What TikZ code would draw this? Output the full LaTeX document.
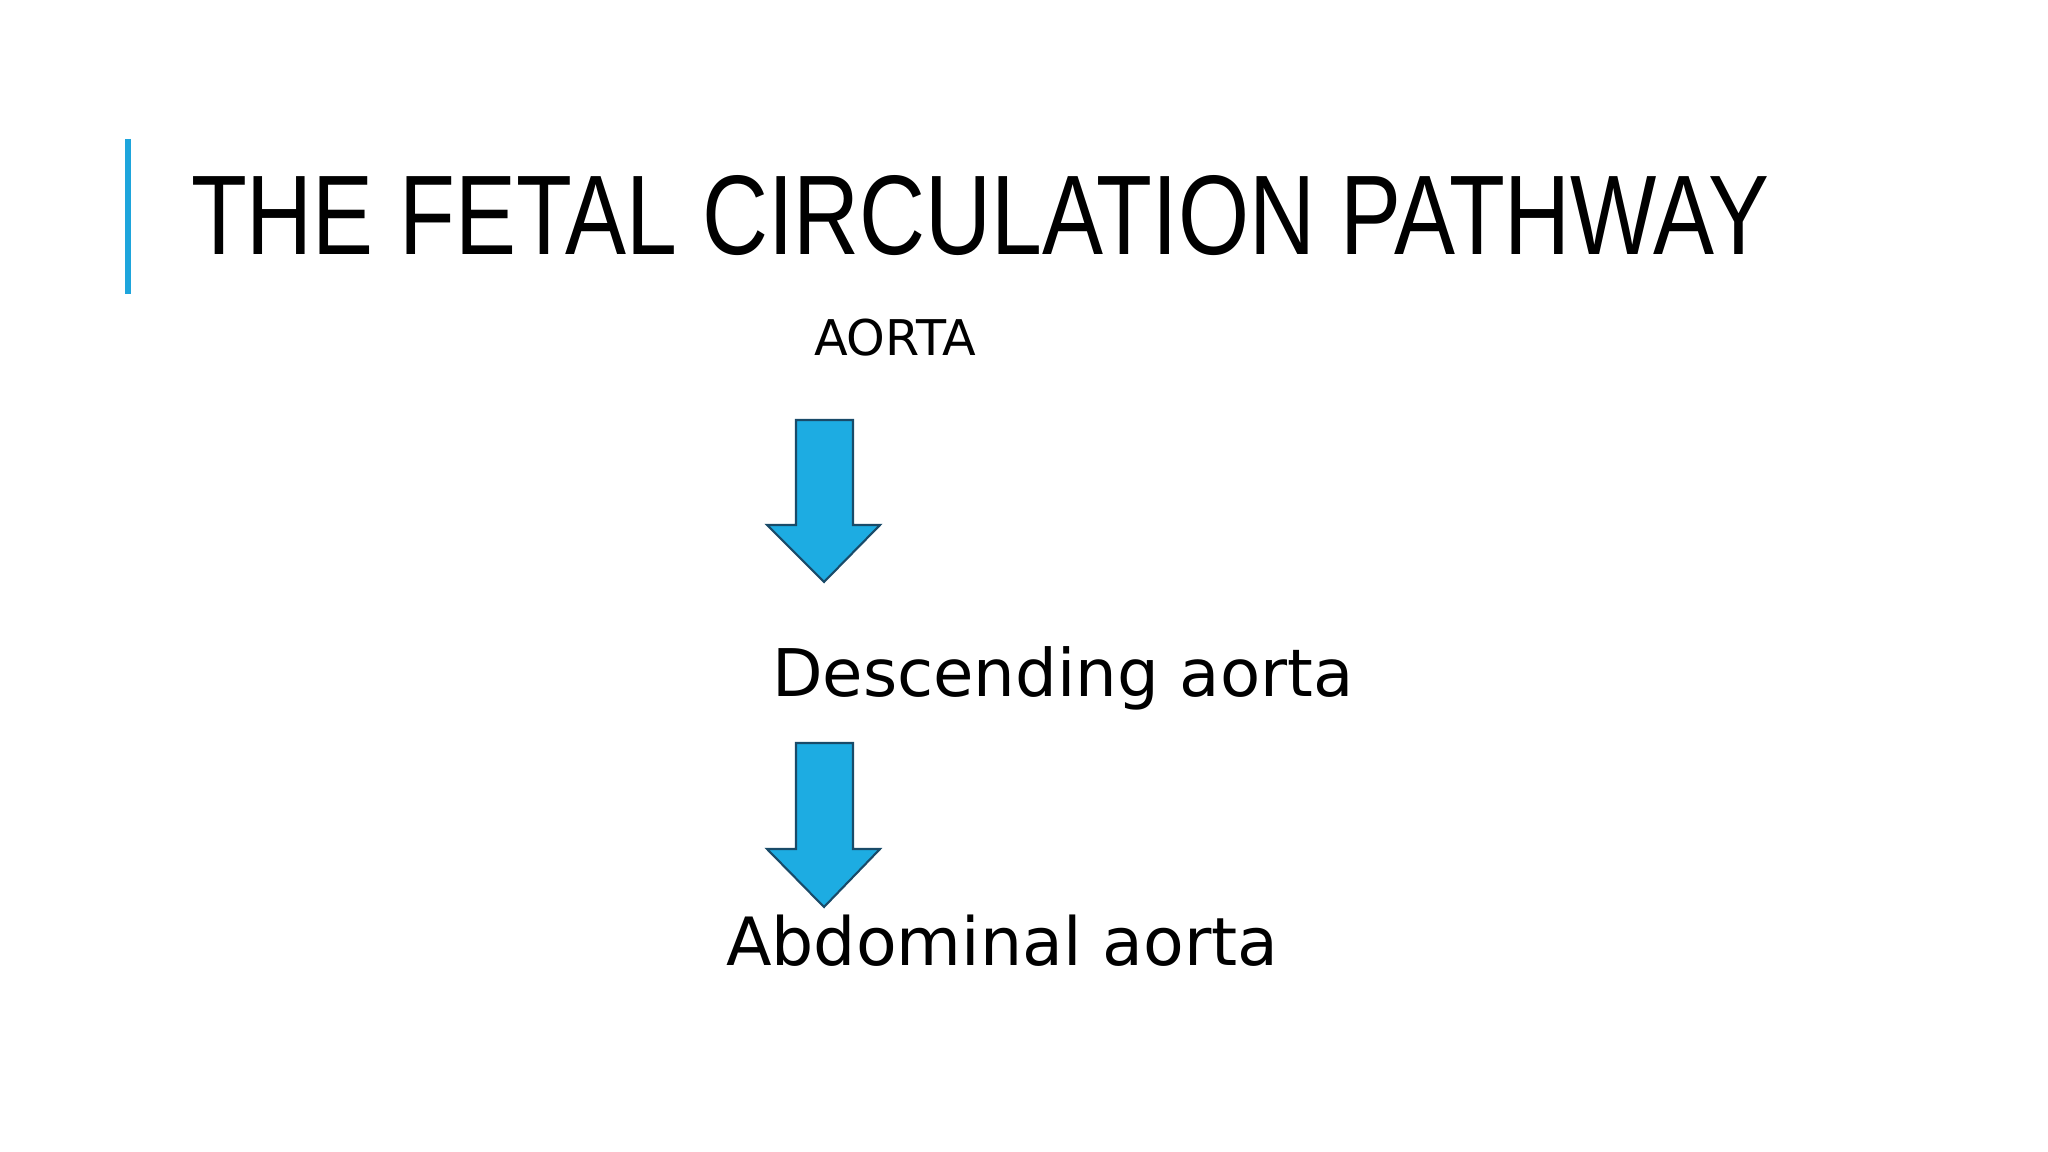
\documentclass[tikz,border=0pt]{standalone}
\usepackage{fontspec}
\setmainfont{Liberation Sans}
\newfontfamily\dv{DejaVu Sans}
\definecolor{accent}{RGB}{30,165,220}
\definecolor{arrfill}{RGB}{29,172,226}
\definecolor{arredge}{RGB}{25,75,105}
\begin{document}
\begin{tikzpicture}[x=0.01cm,y=-0.01cm,
  txt/.style={anchor=base west,inner sep=0pt,outer sep=0pt},
  bigarrow/.style={fill=arrfill,draw=arredge,line width=0.6pt,line join=miter}]
\useasboundingbox (0,0) rectangle (2048,1152);
\draw[accent,line width=1.6pt] (128,139) coordinate (l1) -- (128,294) coordinate (l2);
\node[txt] (title) at (191,255) {\resizebox{15.77cm}{0.79cm}{THE FETAL CIRCULATION PATHWAY}};
\node[txt] (aorta) at (814,356) {\resizebox{1.62cm}{!}{\dv AORTA}};
\node[txt] (desc) at (772,696) {\resizebox{5.81cm}{!}{\dv Descending aorta}};
\node[txt] (abd) at (726,965) {\resizebox{5.52cm}{!}{\dv Abdominal aorta}};
\draw[bigarrow] (796,420) -- (853,420) -- (853,525) -- (880,525) -- (824,582) -- (767,525) -- (796,525) -- cycle;
\draw[bigarrow] (796,743) -- (853,743) -- (853,849) -- (880,849) -- (824,907) -- (767,849) -- (796,849) -- cycle;
\end{tikzpicture}
\end{document}
